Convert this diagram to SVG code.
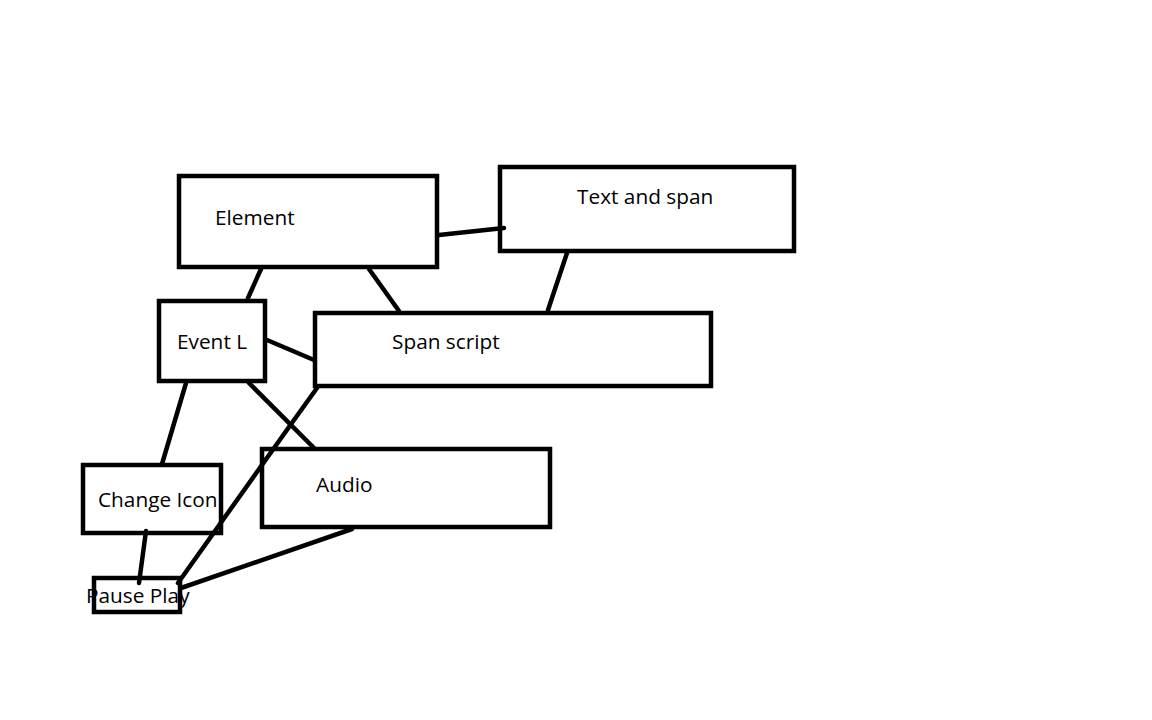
<svg xmlns="http://www.w3.org/2000/svg" width="1152" height="720" viewBox="0 0 1152 720">
<style>
.box{fill:#fff;stroke:#000;stroke-width:4.5}
.lbl{font-family:"Open Sans","Noto Sans","Liberation Sans",sans-serif;font-size:20.8px;fill:#000}
.edge{stroke:#000;stroke-width:4.5;stroke-linecap:round;fill:none}
</style>
<rect width="1152" height="720" fill="#fff"/>
<g id="element">
<rect class="box" x="179" y="176" width="258" height="91"/>
<text class="lbl" x="215" y="225">Element</text>
</g>
<g id="text-and-span">
<rect class="box" x="500" y="167" width="294" height="84"/>
<text class="lbl" x="577" y="204">Text and span</text>
</g>
<g id="span-script">
<rect class="box" x="315" y="313" width="396" height="73"/>
<text class="lbl" x="392" y="349">Span script</text>
</g>
<g id="event-l">
<rect class="box" x="159" y="301" width="106" height="80"/>
<text class="lbl" x="177" y="349">Event L</text>
</g>
<g id="change-icon">
<rect class="box" x="83" y="465" width="138" height="68"/>
<text class="lbl" x="98" y="507">Change Icon</text>
</g>
<g id="audio">
<rect class="box" x="262" y="449" width="288" height="78"/>
<text class="lbl" x="316" y="492">Audio</text>
</g>
<g id="pause-play">
<rect class="box" x="94" y="578" width="86" height="34"/>
<text class="lbl" x="86" y="603">Pause Play</text>
</g>
<g id="connectors">
<line class="edge" x1="439" y1="235" x2="504" y2="228"/>
<line class="edge" x1="261" y1="269" x2="248" y2="298"/>
<line class="edge" x1="369" y1="269" x2="399" y2="311"/>
<line class="edge" x1="567" y1="253" x2="548" y2="310"/>
<line class="edge" x1="267" y1="340" x2="314" y2="360"/>
<line class="edge" x1="186" y1="383" x2="162" y2="464"/>
<line class="edge" x1="249" y1="383" x2="314" y2="448"/>
<path class="edge" d="M317,388 L294,420 L178,583"/>
<line class="edge" x1="352" y1="529" x2="181" y2="588"/>
<line class="edge" x1="146" y1="531" x2="139" y2="583"/>
</g>
</svg>
